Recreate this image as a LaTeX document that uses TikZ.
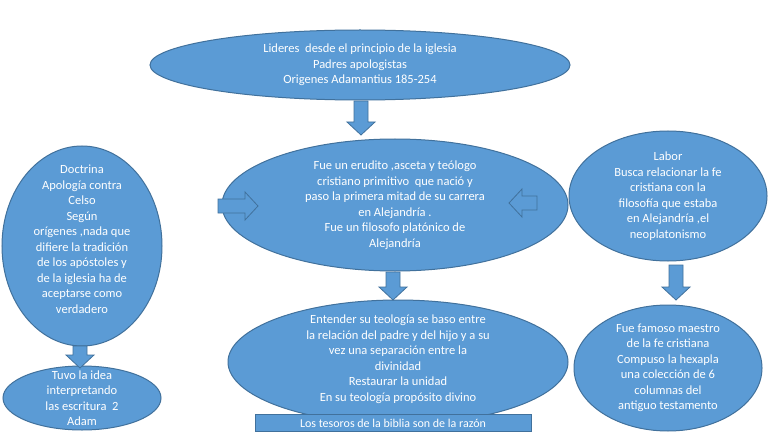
\documentclass[tikz,border=0pt]{standalone}
\usepackage{fontspec}
\setmainfont{Carlito}
\definecolor{fillb}{HTML}{5B9BD5}
\definecolor{lineb}{HTML}{41719C}
\newcommand\blockarr[4]{\begin{scope}[shift={(#1,#2)},rotate=#3]
\draw[barrow] (-7,0) -- (7,0) -- (7,#4-13) -- (14,#4-13) -- (0,#4) -- (-14,#4-13) -- (-7,#4-13) -- cycle;
\end{scope}}
\begin{document}
\begin{tikzpicture}[x=1pt,y=-1pt,
  ell/.style={draw=lineb, fill=fillb, line width=1pt},
  txt/.style={text=white, align=center, font=\fontsize{12.5}{15.5}\selectfont},
  barrow/.style={draw=lineb, fill=fillb, line width=0.8pt}]
\useasboundingbox (0,0) rectangle (768,433);
\fill[white] (0,0) rectangle (768,433);
\draw[ell] (360,65) ellipse (210 and 35);
\node[txt] (top) at (360,65) {Lideres\ \ desde el principio de la iglesia\\Padres apologistas\\Origenes Adamantius 185-254};
\draw[ell] (395,205) ellipse (173 and 66);
\node[txt] (mid) at (395,205) {Fue un erudito ,asceta y teólogo\\cristiano primitivo\ \ que nació y\\paso la primera mitad de su carrera\\en Alejandría .\\Fue un filosofo platónico de\\Alejandría};
\draw[ell] (82,246) ellipse (80 and 100);
\node[txt] (left) at (82,239) {Doctrina\\Apología contra\\Celso\\Según\\orígenes ,nada que\\difiere la tradición\\de los apóstoles y\\de la iglesia ha de\\aceptarse como\\verdadero};
\draw[ell] (668,196) ellipse (99 and 65);
\node[txt] (right) at (668,196) {Labor\\Busca relacionar la fe\\cristiana con la\\filosofía que estaba\\en Alejandría ,el\\neoplatonismo};
\draw[ell] (398,362) ellipse (170 and 62);
\node[txt] (bc) at (398,359) {Entender su teología se baso entre\\la relación del padre y del hijo y a su\\vez una separación entre la\\divinidad\\Restaurar la unidad\\En su teología propósito divino};
\draw[ell] (668,368) ellipse (94 and 63);
\node[txt] (br) at (668,368) {Fue famoso maestro\\de la fe cristiana\\Compuso la hexapla\\una colección de 6\\columnas del\\antiguo testamento};
\draw[ell] (82,398) ellipse (79 and 32);
\node[txt] (bl) at (82,398) {Tuvo la idea\\interpretando\\las escritura\ \ 2\\Adam};
\node[draw=lineb, fill=fillb, line width=0.8pt, minimum width=276pt, minimum height=17pt, text=white, font=\fontsize{12}{14}\selectfont, inner sep=0pt] (box) at (393,423) {Los tesoros de la biblia son de la razón};
\blockarr{361}{101}{0}{34}
\blockarr{218}{206}{90}{40}
\blockarr{537}{203}{-90}{28}
\blockarr{393}{272}{0}{28}
\blockarr{676}{265}{0}{35}
\blockarr{80}{346}{0}{22}
\end{tikzpicture}
\end{document}
